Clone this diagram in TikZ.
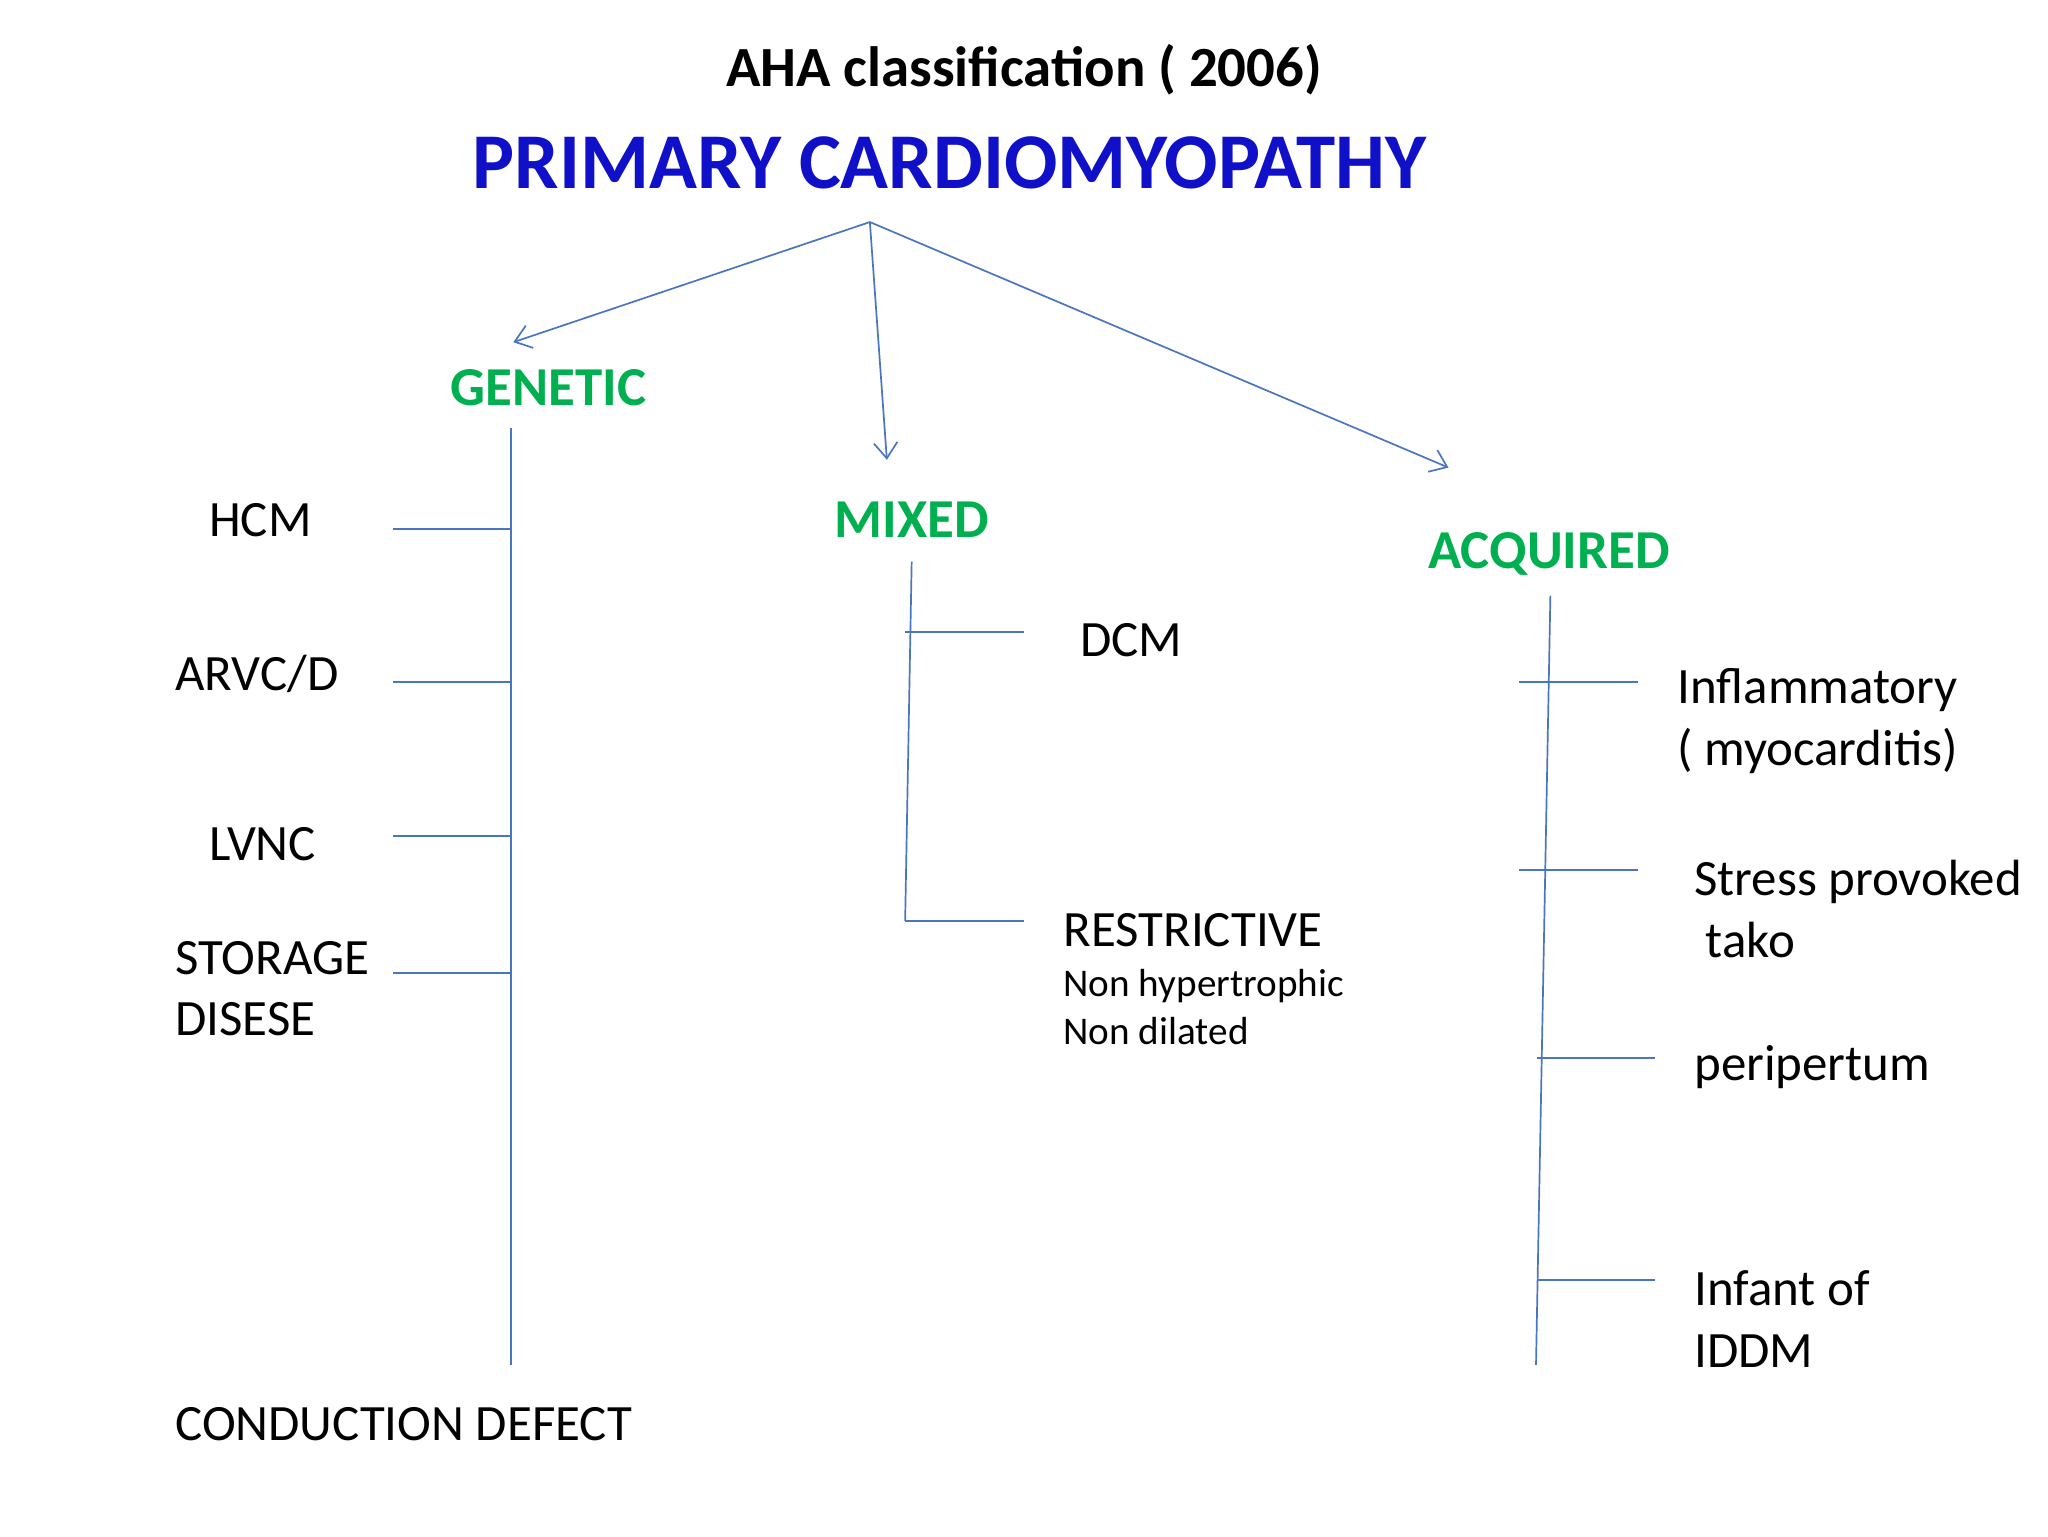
\documentclass[tikz,border=0pt]{standalone}
\usepackage{fontspec}
\setmainfont{Carlito}
\usetikzlibrary{arrows.meta}
\definecolor{lnblue}{HTML}{4A76C0}
\definecolor{ttblue}{HTML}{1010C8}
\definecolor{gr}{HTML}{00B050}
\begin{document}
\begin{tikzpicture}[x=1pt,y=-1pt,
  ln/.style={draw=lnblue,line width=1.3pt},
  arr/.style={ln,-{Straight Barb[length=12pt,width=18pt,line width=1.3pt]}},
  cat/.style={font=\fontsize{42}{44}\selectfont\bfseries,text=gr},
  txt/.style={anchor=west,font=\fontsize{39}{47}\selectfont,align=left,inner sep=0pt},
  sm/.style={anchor=west,font=\fontsize{30}{37}\selectfont,align=left,inner sep=0pt}]
\useasboundingbox[fill=white] (0,0) rectangle (1568,1176);
\node[font=\fontsize{43.5}{46}\selectfont\bfseries] (aha) at (784,53) {AHA classification ( 2006)};
\node[font=\fontsize{60.5}{64}\selectfont\bfseries,text=ttblue] (pc) at (727,125) {PRIMARY CARDIOMYOPATHY};
\coordinate (top) at (666,170);
\coordinate (ga) at (393,262); \coordinate (ma) at (679,352); \coordinate (aa) at (1109,358);
\draw[arr] (top) -- (ga); \draw[arr] (top) -- (ma); \draw[arr] (top) -- (aa);
\node[cat] (gen) at (420,297) {GENETIC};
\node[cat] (mix) at (698,398) {MIXED};
\node[cat] (acq) at (1186,424) {ACQUIRED};
% genetic
\coordinate (g1) at (391,328); \coordinate (g2) at (391,1045);
\draw[ln] (g1) -- (g2);
\foreach \y/\n in {405/a,522/b,640/c,745/d}{
  \coordinate (gs\n) at (301,\y); \coordinate (ge\n) at (391,\y); \draw[ln] (gs\n) -- (ge\n);}
\node[txt] (hcm) at (160,398) {HCM};
\node[txt] (arvc) at (134,516) {ARVC/D};
\node[txt] (lvnc) at (160,646) {LVNC};
\node[txt] (stor) at (134,757) {STORAGE\\DISESE};
\node[txt] (cond) at (134,1090) {CONDUCTION DEFECT};
% mixed
\coordinate (m1) at (698,430); \coordinate (m2) at (693,705);
\draw[ln] (m1) -- (m2);
\coordinate (ms1) at (693,484); \coordinate (me1) at (784,484); \draw[ln] (ms1) -- (me1);
\coordinate (me2) at (784,705); \draw[ln] (m2) -- (me2);
\node[txt] (dcm) at (827,490) {DCM};
\node[txt] (res) at (814,712) {RESTRICTIVE};
\node[sm] (nh) at (814,771) {Non hypertrophic\\Non dilated};
% acquired
\coordinate (a1) at (1187,456); \coordinate (a2) at (1176,1045);
\draw[ln] (a1) -- (a2);
\foreach \xa/\xb/\y/\n in {1163/1254/522/a,1163/1254/666/b,1177/1267/810/c,1177/1267/980/d}{
  \coordinate (as\n) at (\xa,\y); \coordinate (ae\n) at (\xb,\y); \draw[ln] (as\n) -- (ae\n);}
\node[txt] (inf) at (1284,552) {Inflammatory\\( myocarditis)};
\node[txt] (str) at (1297,696) {Stress provoked\\\ tako};
\node[txt] (per) at (1297,817) {peripertum};
\node[txt] (iddm) at (1297,1010) {Infant of\\IDDM};
\end{tikzpicture}
\end{document}
